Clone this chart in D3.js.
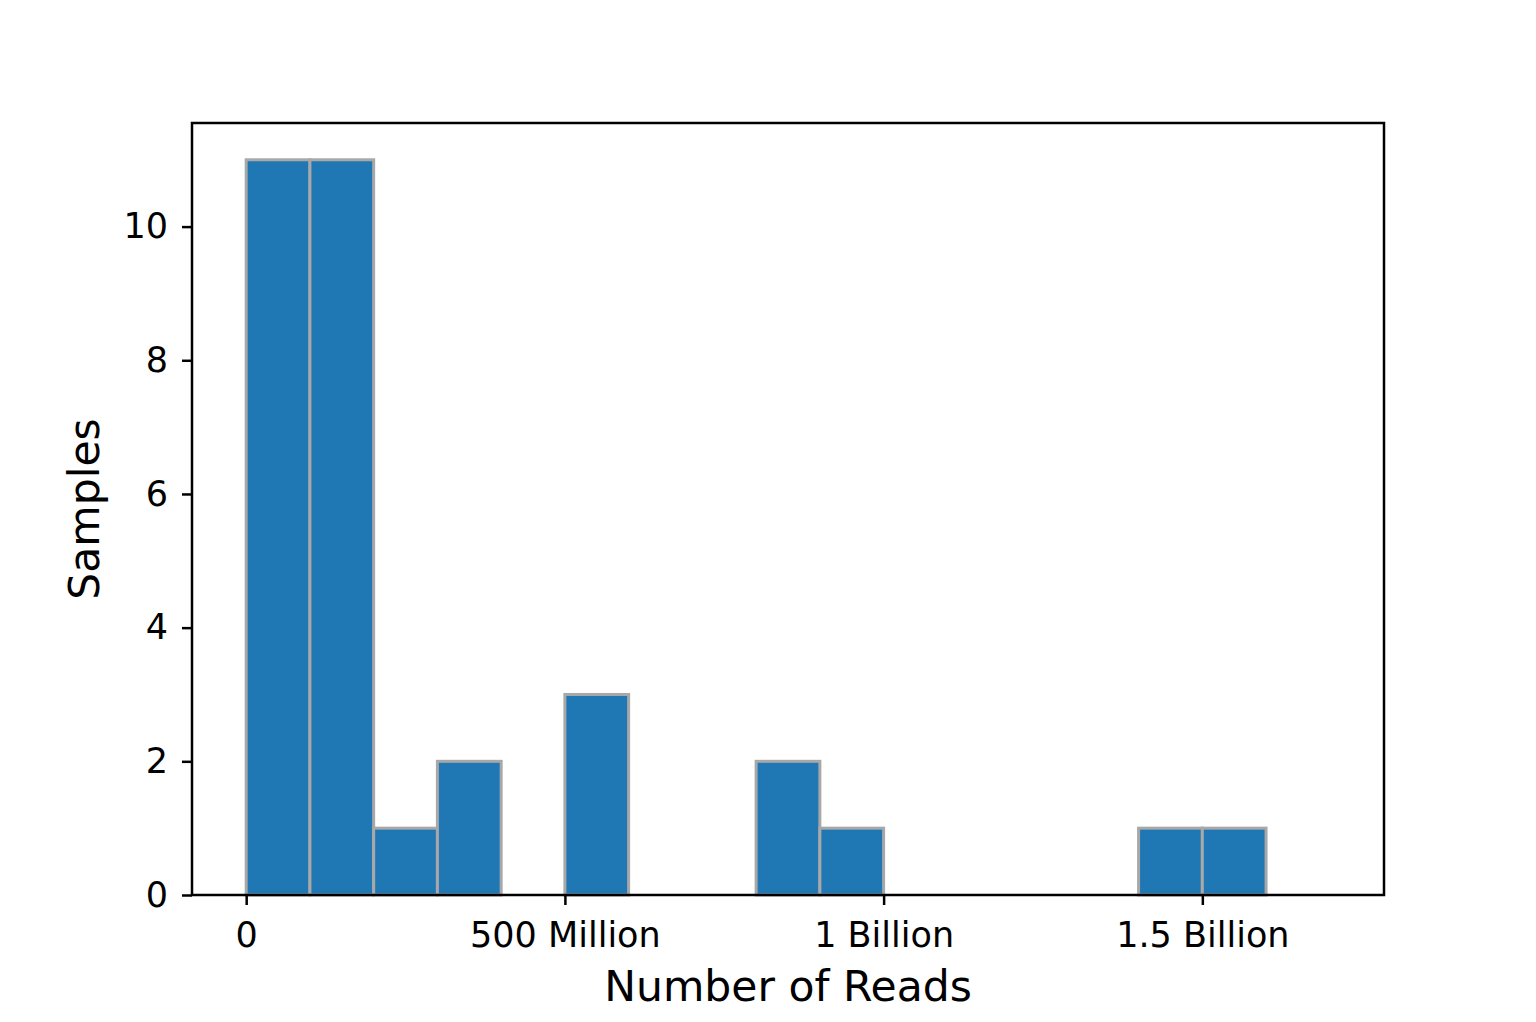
<!DOCTYPE html>
<html><head><meta charset="utf-8">
<script src="https://cdn.jsdelivr.net/npm/d3@7"></script>
<style>html,body{margin:0;padding:0;background:#fff;}svg{display:block;font-family:"DejaVu Sans",sans-serif;}</style>
</head><body>
<svg id="c" width="1536" height="1022"></svg>
<script>
// Histogram bin edges (reads) and counts
const binStarts = [0,100e6,200e6,300e6,400e6,500e6,600e6,700e6,800e6,900e6,1000e6,1100e6,1200e6,1300e6,1400e6,1500e6,1600e6];
const binWidth = 100e6;
const counts = [11,11,1,2,0,3,0,0,2,1,0,0,0,0,1,1,0];
const xTickValues = [0,500e6,1000e6,1500e6];
const xTickLabels = ["0","500 Million","1 Billion","1.5 Billion"];
const yTickValues = [0,2,4,6,8,10];

const svg = d3.select("#c");
const L=192,R=1384,T=123,B=895;
const xmin=0, xmax=1700e6, pad=(xmax-xmin)*0.05;
const x = d3.scaleLinear().domain([xmin-pad,xmax+pad]).range([L,R]);
const ymax = d3.max(counts)*1.05;
const y = d3.scaleLinear().domain([0,ymax]).range([B,T]);

const bins = binStarts.map((s,i)=>({x0:s,x1:s+binWidth,c:counts[i]}));
svg.append("g").selectAll("rect").data(bins).join("rect")
  .attr("x",d=>x(d.x0)).attr("width",d=>x(d.x1)-x(d.x0))
  .attr("y",d=>y(d.c)).attr("height",d=>y(0)-y(d.c))
  .attr("fill","#1f77b4").attr("stroke","#a8a8a8").attr("stroke-width",3);

const xa = svg.append("g").attr("transform",`translate(0,${B})`)
  .call(d3.axisBottom(x).tickValues(xTickValues).tickFormat((d,i)=>xTickLabels[i]).tickSize(10).tickSizeOuter(0).tickPadding(17));
const ya = svg.append("g").attr("transform",`translate(${L},0)`)
  .call(d3.axisLeft(y).tickValues(yTickValues).tickSize(10).tickSizeOuter(0).tickPadding(14));
[xa,ya].forEach(a=>{
  a.select(".domain").remove();
  a.selectAll("line").attr("stroke","#000").attr("stroke-width",2.5);
  a.selectAll("text").attr("font-size",35).attr("fill","#000").attr("font-family","DejaVu Sans");
});
svg.append("rect").attr("x",L).attr("y",T).attr("width",R-L).attr("height",B-T)
  .attr("fill","none").attr("stroke","#000").attr("stroke-width",2.5);

svg.append("text").attr("x",(L+R)/2).attr("y",1001).attr("text-anchor","middle")
  .attr("font-size",42.5).text("Number of Reads");
svg.append("text").attr("transform",`translate(99,${(T+B)/2}) rotate(-90)`).attr("text-anchor","middle")
  .attr("font-size",42.5).text("Samples");
</script>
</body></html>
